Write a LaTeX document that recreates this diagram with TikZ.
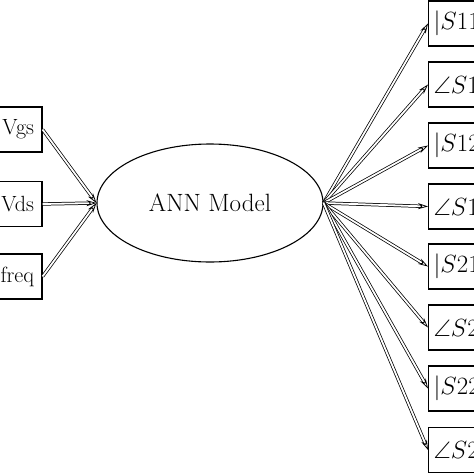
\documentclass[tikz,border=0pt]{standalone}
\usepackage{amsmath}
\usepackage{amssymb}
\usepackage{tikz}
\usetikzlibrary{positioning,shapes.geometric,arrows.meta}

\begin{document}
\begin{tikzpicture}[x=1pt,y=-1pt,
    inbox/.style={draw,line width=1.1pt,minimum height=45pt,text width=44pt,inner sep=8pt,align=right,font=\fontsize{22}{24}\selectfont},
    outbox/.style={draw,line width=1.1pt,minimum height=45pt,text width=80pt,inner sep=5pt,anchor=west,align=left,font=\fontsize{24}{26}\selectfont},
    link/.style={double,double distance=1.8pt,line width=0.75pt,-{Stealth[open,length=10pt,width=6pt]}}]
  \useasboundingbox (0,0) rectangle (474,474);
  \clip (0,0) rectangle (474,474);

  % inputs
  \node[inbox](vgs) at (12,129.5){Vgs};
  \node[inbox](vds) at (12,204){Vds};
  \node[inbox](freq) at (12,276.5){freq};

  % model
  \node[ellipse,draw,line width=1.1pt,minimum width=226pt,minimum height=118pt,font=\fontsize{25}{28}\selectfont](ann) at (210,203){ANN Model};

  % outputs
  \node[outbox](s11m) at (428,23.5){$|S11|$};
  \node[outbox](s11a) at (428,84.5){$\angle S11$};
  \node[outbox](s12m) at (428,145.5){$|S12|$};
  \node[outbox](s12a) at (428,206.5){$\angle S12$};
  \node[outbox](s21m) at (428,266.5){$|S21|$};
  \node[outbox](s21a) at (428,327.5){$\angle S21$};
  \node[outbox](s22m) at (428,388.5){$|S22|$};
  \node[outbox](s22a) at (428,450){$\angle S22$};

  % connections
  \draw[link] (vgs.east) -- (ann.west);
  \draw[link] (vds.east) -- (ann.west);
  \draw[link] (freq.east) -- (ann.west);
  \draw[link] (ann.east) -- (s11m.west);
  \draw[link] (ann.east) -- (s11a.west);
  \draw[link] (ann.east) -- (s12m.west);
  \draw[link] (ann.east) -- (s12a.west);
  \draw[link] (ann.east) -- (s21m.west);
  \draw[link] (ann.east) -- (s21a.west);
  \draw[link] (ann.east) -- (s22m.west);
  \draw[link] (ann.east) -- (s22a.west);
\end{tikzpicture}
\end{document}
